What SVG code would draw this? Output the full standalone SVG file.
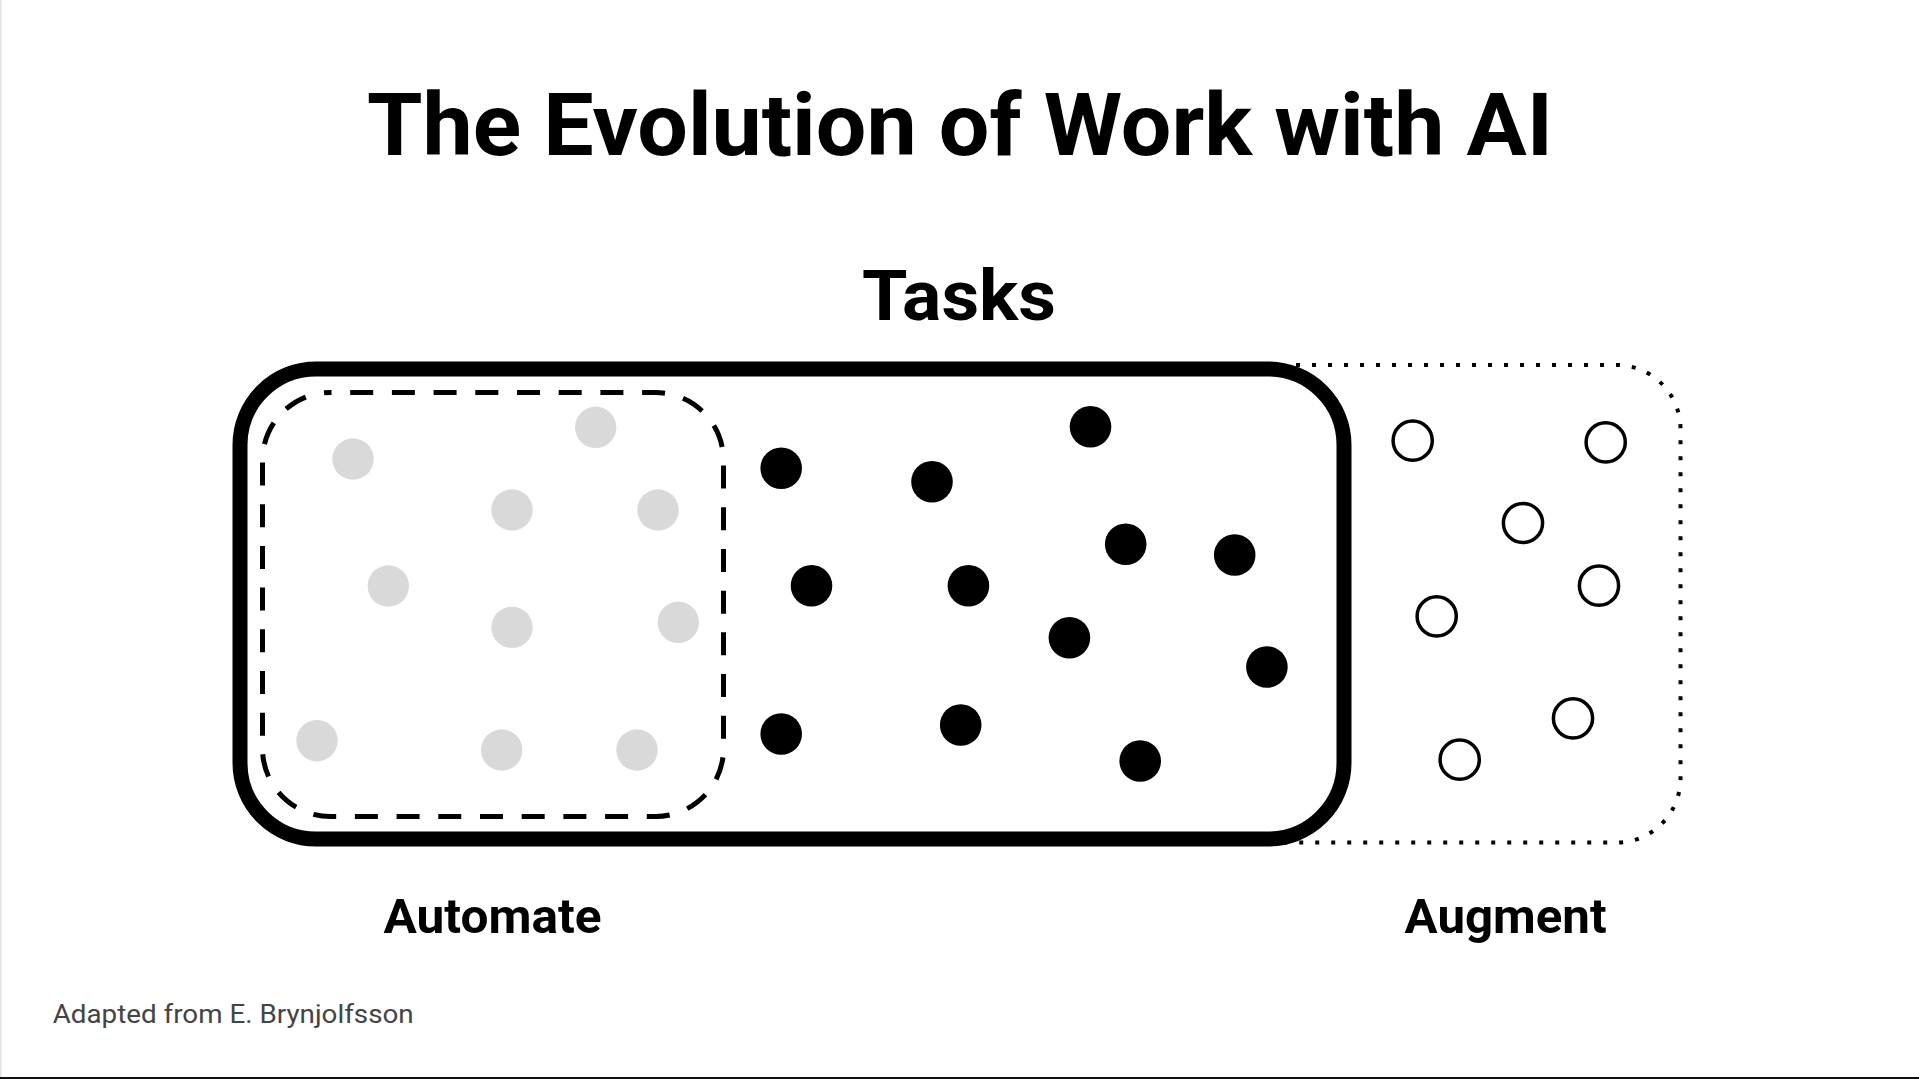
<svg xmlns="http://www.w3.org/2000/svg" width="1919" height="1079" viewBox="0 0 1919 1079">
  <style>
    .bold { font-family: Roboto, "Liberation Sans", "DejaVu Sans", sans-serif; font-weight: 700; fill: #000; }
    .note { font-family: Roboto, "Liberation Sans", sans-serif; font-weight: 400; fill: #444; }
    .grey { fill: #d9d9d9; }
    .solid { fill: #000; }
    .open { fill: #fff; stroke: #000; stroke-width: 3.5; }
  </style>
  <rect x="0" y="0" width="1919" height="1079" fill="#fff"/>
  <rect x="0" y="0" width="1.5" height="1079" fill="#e3e3e3"/>
  <rect x="0" y="1077" width="1919" height="2" fill="#111"/>

  <g id="title">
    <text class="bold" x="960" y="155" font-size="88" text-anchor="middle" textLength="1186" lengthAdjust="spacingAndGlyphs">The Evolution of Work with AI</text>
  </g>
  <g id="tasks-label">
    <text class="bold" x="959" y="320" font-size="71" text-anchor="middle" textLength="194" lengthAdjust="spacingAndGlyphs">Tasks</text>
  </g>

  <g id="augment-region">
    <path d="M1200 365 H1616.5 A64 64 0 0 1 1680.5 429 V778.5 A64 64 0 0 1 1616.5 842.5 H1200" fill="none" stroke="#000" stroke-width="4" stroke-dasharray="4 12"/>
  </g>

  <g id="tasks-box">
    <rect x="240" y="369" width="1104" height="470" rx="76" ry="76" fill="#fff" stroke="#000" stroke-width="15"/>
  </g>

  <g id="automate-region">
    <rect x="262.5" y="392.5" width="461" height="424" rx="68" ry="68" fill="none" stroke="#000" stroke-width="5" stroke-dasharray="23 18.7" stroke-dashoffset="22"/>
  </g>

  <g id="automated-tasks">
    <circle class="grey" cx="353" cy="459" r="20.7"/>
    <circle class="grey" cx="595.7" cy="427.3" r="20.7"/>
    <circle class="grey" cx="512" cy="510" r="20.7"/>
    <circle class="grey" cx="658" cy="510" r="20.7"/>
    <circle class="grey" cx="388.3" cy="586" r="20.7"/>
    <circle class="grey" cx="512" cy="627.3" r="20.7"/>
    <circle class="grey" cx="678.3" cy="622.3" r="20.7"/>
    <circle class="grey" cx="317" cy="740.7" r="20.7"/>
    <circle class="grey" cx="501.7" cy="750" r="20.7"/>
    <circle class="grey" cx="637" cy="750" r="20.7"/>
  </g>

  <g id="current-tasks">
    <circle class="solid" cx="781.2" cy="468.3" r="20.8"/>
    <circle class="solid" cx="932" cy="481.7" r="20.8"/>
    <circle class="solid" cx="1090.5" cy="426.7" r="20.8"/>
    <circle class="solid" cx="811.5" cy="585.7" r="20.8"/>
    <circle class="solid" cx="968.4" cy="585.7" r="20.8"/>
    <circle class="solid" cx="1125.7" cy="544.3" r="20.8"/>
    <circle class="solid" cx="1234.7" cy="555" r="20.8"/>
    <circle class="solid" cx="1069.4" cy="637.7" r="20.8"/>
    <circle class="solid" cx="1266.9" cy="667" r="20.8"/>
    <circle class="solid" cx="781.2" cy="734" r="20.8"/>
    <circle class="solid" cx="960.7" cy="725" r="20.8"/>
    <circle class="solid" cx="1140.2" cy="761" r="20.8"/>
  </g>

  <g id="augmented-tasks">
    <circle class="open" cx="1412.7" cy="440.7" r="19.6"/>
    <circle class="open" cx="1605.7" cy="442.3" r="19.6"/>
    <circle class="open" cx="1523" cy="523" r="19.6"/>
    <circle class="open" cx="1599" cy="585.7" r="19.6"/>
    <circle class="open" cx="1436.7" cy="616.3" r="19.6"/>
    <circle class="open" cx="1573" cy="718.3" r="19.6"/>
    <circle class="open" cx="1459.7" cy="759.7" r="19.6"/>
  </g>

  <g id="connectors"></g>

  <g id="automate-label">
    <text class="bold" x="492.5" y="932.7" font-size="48" text-anchor="middle" textLength="218" lengthAdjust="spacingAndGlyphs">Automate</text>
  </g>
  <g id="augment-label">
    <text class="bold" x="1505.6" y="932.7" font-size="48" text-anchor="middle" textLength="202" lengthAdjust="spacingAndGlyphs">Augment</text>
  </g>
  <g id="source-note">
    <text class="note" x="52.7" y="1023.3" font-size="26" textLength="361" lengthAdjust="spacingAndGlyphs">Adapted from E. Brynjolfsson</text>
  </g>
</svg>
